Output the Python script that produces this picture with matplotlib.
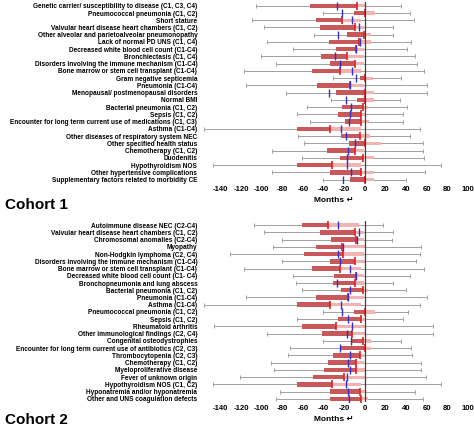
import matplotlib
matplotlib.use("Agg")
import matplotlib.pyplot as plt

plt.rcParams['font.family'] = ['Liberation Sans', 'DejaVu Sans']

labels1 = ["Genetic carrier/ susceptibility to disease (C1, C3, C4)", "Pneumococcal pneumonia (C1, C2)", "Short stature",
 "Valvular heart disease heart chambers (C1, C2)", "Other alveolar and parietoalveolar pneumonopathy",
 "Lack of normal PD UNS (C1, C4)", "Decreased white blood cell count (C1-C4)", "Bronchiectasis (C1, C4)",
 "Disorders involving the immune mechanism (C1-C4)", "Bone marrow or stem cell transplant (C1-C4)",
 "Gram negative septicemia", "Pneumonia (C1-C4)", "Menopausal/ postmenopausal disorders", "Normal BMI",
 "Bacterial pneumonia (C1, C2)", "Sepsis (C1, C2)", "Encounter for long term current use of medications (C1, C3)",
 "Asthma (C1-C4)", "Other diseases of respiratory system NEC", "Other specified health status",
 "Chemotherapy (C1, C2)", "Duodenitis", "Hypothyroidism NOS", "Other hypertensive complications",
 "Supplementary factors related to morbidity CE"]
lo1 = [-106,-41,-110,-98,-49,-95,-70,-101,-86,-117,-31,-115,-77,-33,-56,-66,-53,-156,-65,-59,-90,-61,-147,-90,-41]
hi1 = [35,44,48,27,27,45,41,49,51,57,35,60,60,34,41,37,37,54,44,56,56,57,74,58,40]
q1_1 = [-53,-11,-47,-44,-17,-35,-28,-43,-34,-51,-5,-46,-28,-8,-22,-26,-19,-66,-23,-15,-37,-24,-66,-34,-14]
med1 = [-8,0,-22,-10,-1,-6,-9,-17,-10,-24,0,-14,0,0,-2,-4,-4,-34,-5,0,-10,-2,-32,-4,0]
q3_1 = [0,10,-4,-1,6,6,-1,-1,-1,-4,8,-1,9,9,3,1,4,-4,5,16,-1,9,-4,9,9]
mean1 = [-27,-22,-12,-6,-26,-5,-9,-29,-24,-12,-9,-14,-35,-18,-13,-14,-15,-23,-18,-10,-16,-17,-17,-13,-21]

labels2 = ["Autoimmune disease NEC (C2-C4)", "Valvular heart disease heart chambers (C1, C2)", "Chromosomal anomalies (C2-C4)",
 "Myopathy", "Non-Hodgkin lymphoma (C2, C4)", "Disorders involving the immune mechanism (C1-C4)",
 "Bone marrow or stem cell transplant (C1-C4)", "Decreased white blood cell count (C1- C4)",
 "Bronchopneumonia and lung abscess", "Bacterial pneumonia (C1, C2)", "Pneumonia (C1-C4)", "Asthma (C1-C4)",
 "Pneumococcal pneumonia (C1, C2)", "Sepsis (C1, C2)", "Rheumatoid arthritis", "Other immunological findings (C2, C4)",
 "Congenital osteodystrophies", "Encounter for long term current use of antibiotics (C2, C3)",
 "Thrombocytopenia (C2, C3)", "Chemotherapy (C1, C2)", "Myeloproliferative disease", "Fever of unknown origin",
 "Hypothyroidism NOS (C1, C2)", "Hyponatremia and/or hyponatremia", "Other and UNS coagulation defects"]
lo2 = [-108,-98,-80,-89,-131,-80,-117,-70,-67,-61,-115,-156,-41,-66,-146,-95,-41,-73,-75,-91,-88,-121,-147,-82,-86]
hi2 = [18,27,26,55,54,50,57,44,27,40,60,54,42,37,66,66,35,45,46,55,55,59,74,49,56]
q1_2 = [-61,-44,-33,-47,-59,-34,-51,-30,-31,-23,-47,-66,-11,-26,-61,-42,-13,-23,-31,-36,-40,-50,-66,-34,-34]
med2 = [-36,-10,-9,-22,-21,-10,-24,-9,-10,-2,-16,-34,0,-4,-28,-12,-2,0,-5,-9,-9,-20,-32,-5,-4]
q3_2 = [-6,-1,-1,1,-1,0,-4,-1,-1,3,-1,-4,10,1,0,1,6,6,-1,-1,1,0,-4,0,3]
mean2 = [-26,-6,-8,-21,-26,-24,-14,-9,-27,-14,-16,-23,-22,-16,-12,-17,-13,-24,-14,-16,-14,-17,-18,-16,-15]

xticks = list(range(-140, 101, 20))

fig = plt.figure(figsize=(4.74, 4.30), dpi=100)

def panel(rect, labels, lo, hi, q1, med, q3, mean):
    ax = fig.add_axes(rect)
    n = len(labels)
    ys = list(range(n))
    ax.hlines(ys, lo, hi, color="#a0a0a0", lw=0.7, zorder=1)
    ax.plot(lo, ys, "|", color="#a0a0a0", ms=3, mew=0.7, zorder=1)
    ax.plot(hi, ys, "|", color="#a0a0a0", ms=3, mew=0.7, zorder=1)
    ax.barh(ys, [m - a for a, m in zip(q1, med)], left=q1, height=0.62, color="#c9585a", zorder=2)
    ax.barh(ys, [b - m for m, b in zip(med, q3)], left=med, height=0.45, color="#f2b3b3", zorder=2)
    ax.plot(med, ys, "|", color="#e0201e", ms=5.5, mew=1.2, zorder=3)
    ax.plot(mean, ys, "|", color="#3030d0", ms=5.5, mew=1.0, zorder=4)
    ax.axvline(0, color="#404040", lw=0.9, zorder=5)
    ax.set_xlim(-160, 100)
    ax.set_ylim(n - 0.5, -0.5)
    ax.set_yticks(ys)
    ax.set_yticklabels(labels, fontsize=4.7, fontweight="bold")
    ax.set_xticks(xticks)
    ax.set_xticklabels([str(t) for t in xticks], fontsize=5.6, fontweight="bold")
    ax.tick_params(length=0, pad=2)
    for s in ax.spines.values():
        s.set_visible(False)
    ax.set_xlabel("Months \u21b5", fontsize=6, fontweight="bold", labelpad=3)
    return ax

panel([0.422, 0.574, 0.565, 0.421], labels1, lo1, hi1, q1_1, med1, q3_1, mean1)
panel([0.422, 0.064, 0.565, 0.421], labels2, lo2, hi2, q1_2, med2, q3_2, mean2)
fig.text(0.01, 1 - 205 / 430, "Cohort 1", fontsize=11, fontweight="bold", va="center")
fig.text(0.01, 1 - 420 / 430, "Cohort 2", fontsize=11, fontweight="bold", va="center")
fig.savefig("out.png", dpi=100)
